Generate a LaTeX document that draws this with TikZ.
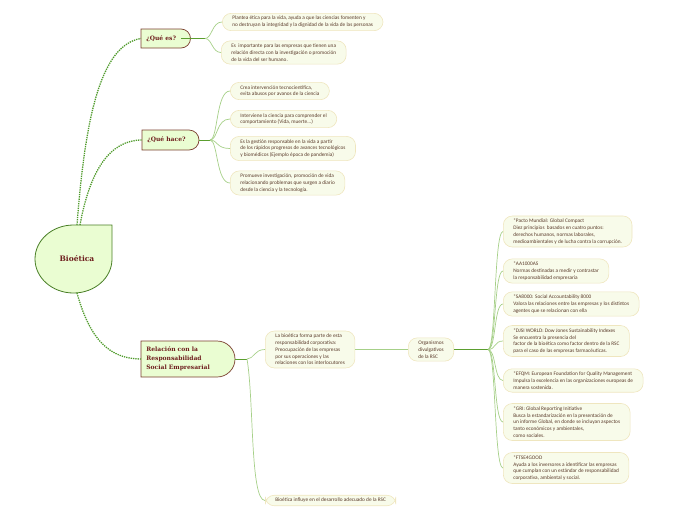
\documentclass[tikz,border=0pt]{standalone}
\usepackage{fontspec}
\setmainfont{Carlito}
\newfontfamily\titlefont{DejaVu Serif}
\begin{document}
\begin{tikzpicture}[x=1pt,y=-1pt,
  leaf/.style={draw=leafline,fill=leaffill,rounded corners=9pt,line width=0.6pt,align=left,anchor=west,
     inner xsep=10pt,inner ysep=3pt,font=\fontsize{5.3}{6.8}\selectfont,text=textc},
  mainbox/.style={draw=mainline,fill=mainfill,line width=0.7pt,align=left,anchor=west,inner xsep=5pt,
     font=\titlefont\bfseries\fontsize{6}{9}\selectfont,text=titlec},
  dotc/.style={draw=dotg,line width=1.3pt,densely dotted},
  br/.style={draw=brg,line width=0.7pt},
  brk/.style={draw=brdark,line width=1pt}]
\definecolor{leafline}{HTML}{EFE6BF}
\definecolor{leaffill}{HTML}{F8FBEA}
\definecolor{textc}{HTML}{5A3A2A}
\definecolor{mainline}{HTML}{7A3E2E}
\definecolor{mainfill}{HTML}{EAFDD2}
\definecolor{titlec}{HTML}{6E1E1E}
\definecolor{dotg}{HTML}{4E9A2A}
\definecolor{brg}{HTML}{A6D088}
\definecolor{brdark}{HTML}{5B9E2F}
\useasboundingbox (0,0) rectangle (696,520);
% central
\coordinate (bt) at (77,225);
\coordinate (bb) at (77,293);
\filldraw[draw=brdark!80!black,fill=mainfill,line width=0.8pt] (112,225) -- (112,259) arc[start angle=0,end angle=270,x radius=38.5,y radius=34] -- cycle;
\node[font=\titlefont\bfseries\fontsize{7.5}{9}\selectfont,text=titlec] (bio) at (77,259) {Bioética};
% main boxes
\path[mainbox,rounded corners=0pt] (141,29) -- (181,29) arc[start angle=-90,end angle=90,radius=9.5] -- (141,48) -- cycle;
\node[mainbox,draw=none,fill=none] (qe) at (141,38.5) {¿Qué es?};
\path[mainbox] (142,130) -- (189,130) arc[start angle=-90,end angle=90,radius=10] -- (142,150) -- cycle;
\node[mainbox,draw=none,fill=none] (qh) at (142,140) {¿Qué hace?};
\path[mainbox] (141,341) -- (217,341) arc[start angle=-90,end angle=90,radius=18] -- (141,377) -- cycle;
\node[mainbox,draw=none,fill=none] (rel) at (141,359) {Relación con la\\Responsabilidad\\Social Empresarial};
\draw[dotc] (bt) .. controls (85,120) and (100,45) .. (qe.west);
\draw[dotc] (80,225) .. controls (90,170) and (110,140) .. (qh.west);
\draw[dotc] (bb) .. controls (90,340) and (110,359) .. (rel.west);
% leaves
\node[leaf] (q1) at (222,22) {Plantea ética para la vida, ayuda a que las ciencias fomenten y\\no destruyan la integridad y la dignidad de la vida de las personas};
\node[leaf] (q2) at (221,52.5) {Es \ importante para las empresas que tienen una\\relación directa con la investigación o promoción\\de la vida del ser humano.};
\node[leaf] (h1) at (230,91) {Crea intervención tecnocientífica,\\evita abusos por avanos de la ciencia};
\node[leaf] (h2) at (230,119) {Interviene la ciencia para comprender el\\comportamiento (Vida, muerte...)};
\node[leaf] (h3) at (230,148.5) {Es la gestión responsable en la vida a partir\\de los rápidos progresos de avances tecnológicos\\y biomédicos (Ejemplo época de pandemia)};
\node[leaf] (h4) at (230,183) {Promueve investigación, promoción de vida\\relacionando problemas que surgen a diario\\desde la ciencia y la tecnología.};
\node[leaf] (r1) at (265,349.5) {La bioética forma parte de esta\\responsabilidad corporativa:\\ Preocupación de las empresas\\por sus operaciones y las\\relaciones con los interlocutores};
\node[leaf] (org) at (408,349.5) {Organismos\\divulgativos\\de la RSC};
\node[leaf] (r2) at (265,500.5) {Bioética influye en el desarrollo adecuado de la RSC};
\node[leaf] (p1) at (503,231.5) {*Pacto Mundial: Global Compact\\Diez principios \ basados en cuatro puntos:\\derechos humanos, normas laborales,\\medioambientales y de lucha contra la corrupción.};
\node[leaf] (p2) at (503,271) {*AA1000AS\\ Normas destinadas a medir y contrastar\\la responsabilidad empresaria};
\node[leaf] (p3) at (503,304) {*SA8000: Social Accountability 8000\\Valora las relaciones entre las empresas y los distintos\\agentes que se relacionan con ella};
\node[leaf] (p4) at (503,341) {*DJSI WORLD: Dow Jones Sustainability Indexes\\ Se encuentra la presencia del\\factor de la bioética como factor dentro de la RSC\\para el caso de las empresas farmacéuticas.};
\node[leaf] (p5) at (503,380.5) {*EFQM: European Foundation for Quality Management\\Impulsa la excelencia en las organizaciones europeas de\\manera sostenida.};
\node[leaf] (p6) at (503,422) {*GRI: Global Reporting Initiative\\Busca la estandarización en la presentación de\\un informe Global, en donde se incluyan aspectos\\tanto económicos y ambientales,\\ como sociales.};
\node[leaf] (p7) at (503,468) {*FTSE4GOOD\\ Ayuda a los inversores a identificar las empresas\\que cumplan con un estándar de responsabilidad\\corporativa, ambiental y social.};
% branches
\coordinate (qej) at (205,38.5);
\draw[brk] (qe.east) -- (qej);
\foreach \n in {q1,q2}{\draw[br] (qej) .. controls (212,38.5) and (212,0|-\n.west) .. (\n.west);}
\coordinate (qhj) at (210,140);
\draw[brk] (199,140) -- (qhj);
\foreach \n in {h1,h2,h3,h4}{\draw[br] (qhj) .. controls (218,140) and (216,0|-\n.west) .. (\n.west);}
\coordinate (relj) at (247,359);
\draw[brk] (235,359) -- (relj);
\draw[br] (relj) .. controls (254,359) and (254,349.5) .. (r1.west);
\draw[br] (relj) .. controls (254,400) and (250,500.5) .. (r2.west);
\draw[br] (r1.east) -- (org.west);
\coordinate (oj) at (488,349.5);
\draw[brk] (org.east) -- (oj);
\foreach \n in {p1,p2,p3,p4,p5,p6,p7}{\draw[br] (oj) .. controls (496,349.5) and (494,0|-\n.west) .. (\n.west);}
\end{tikzpicture}
\end{document}
